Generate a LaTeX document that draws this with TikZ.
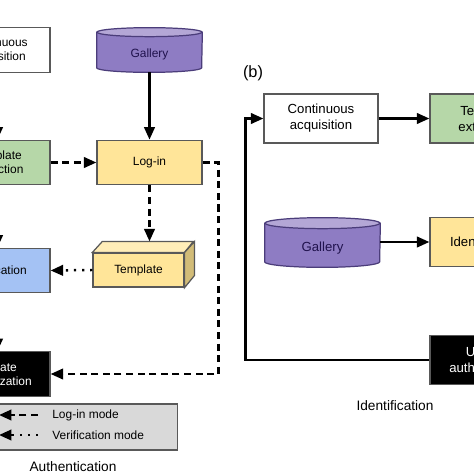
\documentclass[tikz,border=0pt]{standalone}
\usepackage{fontspec}
\setmainfont{Liberation Sans}
\usetikzlibrary{arrows.meta, positioning, calc, backgrounds}

\definecolor{edgegray}{HTML}{595959}
\definecolor{extgreen}{HTML}{B6D7A8}
\definecolor{loginyellow}{HTML}{FFE599}
\definecolor{verblue}{HTML}{A4C2F4}
\definecolor{galbody}{HTML}{8E7CC3}
\definecolor{galtop}{HTML}{B4A7D6}
\definecolor{galedge}{HTML}{4B3D7A}
\definecolor{galtext}{HTML}{20124D}
\definecolor{tplside}{HTML}{D2BC78}
\definecolor{tpltop}{HTML}{FFEDB8}
\definecolor{legendgray}{HTML}{D9D9D9}

\begin{document}
\begin{tikzpicture}[
    x=0.02cm, y=-0.02cm,
    arrow/.style={-{Triangle[length=2.5mm, width=2.1mm]}, line width=1.4pt},
    loginline/.style={dash pattern=on 4pt off 2.6pt},
    verifline/.style={dash pattern=on 1.3pt off 3.3pt},
    abox/.style={draw=edgegray, line width=0.7pt, inner sep=0pt, align=center,
        minimum width=2.1cm, minimum height=0.89cm,
        font=\fontsize{6.8}{8}\selectfont},
    bbox/.style={draw=edgegray, line width=0.7pt, inner sep=0pt, align=center,
        minimum width=2.28cm, minimum height=0.98cm,
        font=\fontsize{7.5}{9.1}\selectfont},
    caption/.style={font=\fontsize{7.8}{9}\selectfont}
]
\useasboundingbox (0,0) rectangle (474,474);
\clip (0,0) rectangle (474,474);

% ============ (a) AUTHENTICATION ============
\node[abox] (aca) at (-2.5, 50) {Continuous\\acquisition};
\node[abox, fill=extgreen] (ate) at (-2.5, 162.5) {Template\\extraction};
\node[abox, fill=verblue] (aver) at (-2.5, 270.5) {Verification};
\node[abox, fill=black, text=white] (aupd) at (-2.5, 374) {Update\\authorization};

% Gallery (cylinder)
\node[inner sep=0pt, minimum width=2.1cm, minimum height=0.7cm, text=galtext,
    font=\fontsize{6.8}{8}\selectfont] (agal) at (149.5, 54.5) {Gallery};
\begin{scope}[on background layer]
\filldraw[fill=galbody, draw=galedge, line width=0.7pt]
    ([yshift=0.09cm]agal.north west) -- ([yshift=0.09cm]agal.south west)
    arc[start angle=180, end angle=360, x radius=1.05cm, y radius=0.09cm]
    -- ([yshift=0.09cm]agal.north east) -- cycle;
\filldraw[fill=galtop, draw=galedge, line width=0.7pt]
    ([yshift=0.09cm]agal.north) ellipse[x radius=1.05cm, y radius=0.09cm];
\end{scope}

\node[abox, fill=loginyellow] (alog) at (149.5, 162.5) {Log-in};

% Template (3D box)
\node[abox, fill=loginyellow, minimum width=1.82cm, minimum height=0.68cm] (atpl) at (138.5, 270) {Template};
\filldraw[fill=tpltop, draw=edgegray, line width=0.7pt]
    (atpl.north west) -- ++(10,-11) -- ++(91,0) -- (atpl.north east) -- cycle;
\filldraw[fill=tplside, draw=edgegray, line width=0.7pt]
    (atpl.north east) -- ++(10,-11) -- ++(0,34) -- (atpl.south east) -- cycle;
\coordinate (atpltop) at ($(atpl.north)+(0,-11)$);

% Arrows
\draw[arrow] (aca) -- (ate);
\draw[arrow] (ate) -- (aver);
\draw[arrow] (aver) -- (aupd);
\draw[arrow] (agal) -- (alog);
\draw[arrow, loginline] (ate) -- (alog);
\draw[arrow, loginline] (alog.south) -- (alog.south |- atpltop);
\draw[arrow, verifline] (atpl.west) -- (aver.east);
\draw[arrow, loginline] (alog.east) -- ++(16,0) |- (aupd.east);

% Legend
\node[draw=edgegray, fill=legendgray, line width=0.7pt, minimum width=5.94cm,
    minimum height=0.92cm, inner sep=0pt] (legend) at (29, 427) {};
\coordinate (lgdlog) at (38, 415);
\coordinate (lgdlogtip) at (-1, 415);
\coordinate (lgdver) at (38, 435);
\coordinate (lgdvertip) at (-1, 435);
\draw[arrow, loginline] (lgdlog) -- (lgdlogtip);
\draw[arrow, verifline] (lgdver) -- (lgdvertip);
\node[anchor=west, inner sep=0pt, font=\fontsize{6.8}{8}\selectfont] (lgdlogtxt) at (52, 415) {Log-in mode};
\node[anchor=west, inner sep=0pt, font=\fontsize{6.8}{8}\selectfont] (lgdvertxt) at (52, 435) {Verification mode};

\node[caption] (acap) at (73, 467) {Authentication};

% ============ (b) IDENTIFICATION ============
\node[font=\fontsize{9.3}{11}\selectfont] (blabel) at (253, 73) {(b)};

\node[bbox] (bca) at (321, 118.5) {Continuous\\acquisition};
\node[bbox, fill=extgreen] (bte) at (487, 118.5) {Template\\extraction};

% Gallery (cylinder)
\node[inner sep=0pt, minimum width=2.3cm, minimum height=0.76cm, text=galtext,
    font=\fontsize{7.5}{9}\selectfont] (bgal) at (322.5, 248) {Gallery};
\begin{scope}[on background layer]
\filldraw[fill=galbody, draw=galedge, line width=0.7pt]
    ([yshift=0.11cm]bgal.north west) -- ([yshift=0.11cm]bgal.south west)
    arc[start angle=180, end angle=360, x radius=1.15cm, y radius=0.11cm]
    -- ([yshift=0.11cm]bgal.north east) -- cycle;
\filldraw[fill=galtop, draw=galedge, line width=0.7pt]
    ([yshift=0.11cm]bgal.north) ellipse[x radius=1.15cm, y radius=0.11cm];
\end{scope}

\node[bbox, fill=loginyellow] (bid) at (487, 242) {Identification};
\node[bbox, fill=black, text=white] (bupd) at (487, 360) {Update\\authorization};

% Arrows
\draw[arrow] (bca) -- (bte);
\draw[arrow] (bid.west -| bgal.east) -- (bid.west);
\draw[arrow] (bupd.west) -- ++(-184,0) |- (bca.west);

\node[caption] (bcap) at (395, 406) {Identification};

\end{tikzpicture}
\end{document}
